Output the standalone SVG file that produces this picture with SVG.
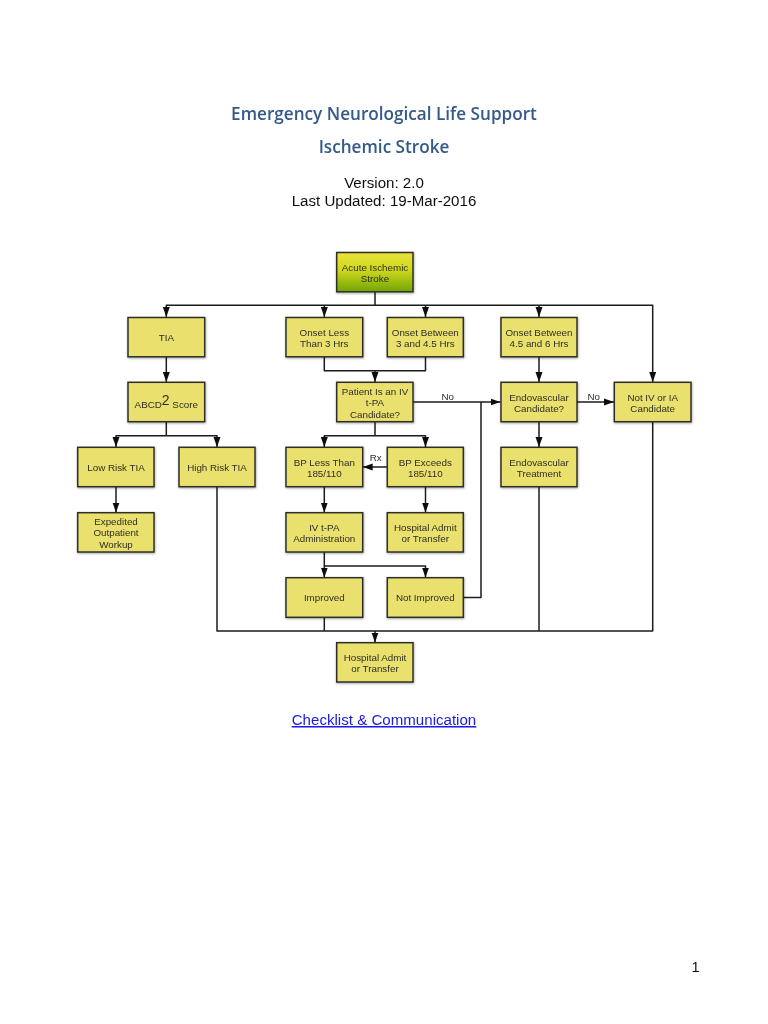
<svg xmlns="http://www.w3.org/2000/svg" width="768" height="1024" viewBox="0 0 768 1024">
<style>
.n{fill:#e9e06e;stroke:#2f2f28;stroke-width:1.5;filter:url(#s)}
.t{font-family:"Liberation Sans",Arial,sans-serif;font-size:9.8px;fill:#2f2f24;text-anchor:middle}
.c{fill:none;stroke:#1c1c1c;stroke-width:1.5;stroke-linejoin:round}
.a{marker-end:url(#ah)}
.h{font-family:"Open Sans","Noto Sans",sans-serif;font-weight:600;font-size:17.15px;fill:#345a8a;text-anchor:middle}
.b{font-family:"Liberation Sans",Arial,sans-serif;font-size:15.1px;fill:#111;text-anchor:middle}
</style>
<defs>
<marker id="ah" markerUnits="userSpaceOnUse" markerWidth="11" markerHeight="9" refX="10" refY="4" orient="auto"><path d="M0 0.500L10 4L0 7.500Z" fill="#111"/></marker>
<linearGradient id="g" x1="0" y1="0" x2="0" y2="1"><stop offset="0" stop-color="#e9e33a"/><stop offset="0.45" stop-color="#cfd81e"/><stop offset="1" stop-color="#6fa502"/></linearGradient>
<filter id="s" x="-10%" y="-10%" width="125%" height="130%"><feDropShadow dx="0.5" dy="1" stdDeviation="0.8" flood-color="#000" flood-opacity="0.35"/></filter>
<filter id="blur" filterUnits="userSpaceOnUse" x="0" y="0" width="768" height="1024"><feGaussianBlur stdDeviation="0.35"/></filter>
</defs>
<rect width="768" height="1024" fill="#fff"/>
<g filter="url(#blur)">
<text class="h" x="384" y="120">Emergency Neurological Life Support</text>
<text class="h" x="384" y="153">Ischemic Stroke</text>
<text class="b" x="384" y="188">Version: 2.0</text>
<text class="b" x="384" y="205.500">Last Updated: 19-Mar-2016</text>
<g id="connectors">
<path class="c" d="M375 292V305.300"/>
<path class="c a" d="M375 305.300H166.300V317"/>
<path class="c a" d="M324.300 305.300V317"/>
<path class="c a" d="M425.500 305.300V317"/>
<path class="c a" d="M539 305.300V317"/>
<path class="c a" d="M375 305.300H652.700V382"/>
<path class="c a" d="M166.300 357V382"/>
<path class="c" d="M324.300 357V370.700H425.500V357"/>
<path class="c a" d="M375 370.700V382"/>
<path class="c a" d="M539 357V382"/>
<path class="c" d="M166.300 422V435.700"/>
<path class="c a" d="M166.300 435.700H116V447"/>
<path class="c a" d="M166.300 435.700H217V447"/>
<path class="c" d="M375 422V435.700"/>
<path class="c a" d="M375 435.700H324.300V447"/>
<path class="c a" d="M375 435.700H425.500V447"/>
<path class="c a" d="M413 402H500.500"/>
<path class="c a" d="M577 402H614"/>
<path class="c a" d="M539 422V447"/>
<path class="c a" d="M387.300 467H362.700"/>
<path class="c a" d="M116 487V512.500"/>
<path class="c a" d="M324.300 487V512.500"/>
<path class="c a" d="M425.500 487V512.500"/>
<path class="c a" d="M324.300 552V577.500"/>
<path class="c a" d="M324.300 566H425.500V577.500"/>
<path class="c" d="M463.300 597.500H481V402"/>
<path class="c" d="M217 487V631H652.700V422"/>
<path class="c" d="M324.300 617.500V631"/>
<path class="c" d="M539 487V631"/>
<path class="c a" d="M375 631V642.500"/>
<text class="t" x="447.700" y="399.500">No</text>
<text class="t" x="593.700" y="399.500">No</text>
<text class="t" x="375.800" y="460.500">Rx</text>
</g>
<g id="acute"><rect class="n" style="fill:url(#g)" x="336.700" y="252.500" width="76.300" height="39.300"/><text class="t" x="375" y="270.500">Acute Ischemic</text><text class="t" x="375" y="281.800">Stroke</text></g>
<g id="tia"><rect class="n" x="128" y="317.500" width="76.700" height="39.300"/><text class="t" x="166.300" y="341">TIA</text></g>
<g id="onset3"><rect class="n" x="286" y="317.500" width="76.700" height="39.300"/><text class="t" x="324.300" y="335.500">Onset Less</text><text class="t" x="324.300" y="346.800">Than 3 Hrs</text></g>
<g id="onset45"><rect class="n" x="387.300" y="317.500" width="76" height="39.300"/><text class="t" x="425.300" y="335.500">Onset Between</text><text class="t" x="425.300" y="346.800">3 and 4.5 Hrs</text></g>
<g id="onset6"><rect class="n" x="501" y="317.500" width="76" height="39.300"/><text class="t" x="539" y="335.500">Onset Between</text><text class="t" x="539" y="346.800">4.5 and 6 Hrs</text></g>
<g id="abcd"><rect class="n" x="128" y="382.300" width="76.700" height="39.400"/><text class="t" x="166.300" y="408.300">ABCD<tspan font-size="14" dy="-3">2</tspan><tspan dy="3"> Score</tspan></text></g>
<g id="candidate"><rect class="n" x="336.700" y="382.300" width="76.300" height="39.400"/><text class="t" x="375" y="394.500">Patient Is an IV</text><text class="t" x="375" y="406.300">t-PA</text><text class="t" x="375" y="418">Candidate?</text></g>
<g id="endocand"><rect class="n" x="501" y="382.300" width="76" height="39.400"/><text class="t" x="539" y="400.500">Endovascular</text><text class="t" x="539" y="411.800">Candidate?</text></g>
<g id="notiv"><rect class="n" x="614.300" y="382.300" width="76.700" height="39.400"/><text class="t" x="652.700" y="400.500">Not IV or IA</text><text class="t" x="652.700" y="411.800">Candidate</text></g>
<g id="low"><rect class="n" x="77.700" y="447.300" width="76.300" height="39.400"/><text class="t" x="116" y="470.500">Low Risk TIA</text></g>
<g id="high"><rect class="n" x="179" y="447.300" width="76" height="39.400"/><text class="t" x="217" y="470.500">High Risk TIA</text></g>
<g id="bpless"><rect class="n" x="286" y="447.300" width="76.700" height="39.400"/><text class="t" x="324.300" y="465.500">BP Less Than</text><text class="t" x="324.300" y="476.800">185/110</text></g>
<g id="bpex"><rect class="n" x="387.300" y="447.300" width="76" height="39.400"/><text class="t" x="425.300" y="465.500">BP Exceeds</text><text class="t" x="425.300" y="476.800">185/110</text></g>
<g id="endotx"><rect class="n" x="501" y="447.300" width="76" height="39.400"/><text class="t" x="539" y="465.500">Endovascular</text><text class="t" x="539" y="476.800">Treatment</text></g>
<g id="workup"><rect class="n" x="77.700" y="512.700" width="76.300" height="39.300"/><text class="t" x="116" y="525">Expedited</text><text class="t" x="116" y="536.300">Outpatient</text><text class="t" x="116" y="548">Workup</text></g>
<g id="ivtpa"><rect class="n" x="286" y="512.700" width="76.700" height="39.300"/><text class="t" x="324.300" y="530.500">IV t-PA</text><text class="t" x="324.300" y="541.800">Administration</text></g>
<g id="admit1"><rect class="n" x="387.300" y="512.700" width="76" height="39.300"/><text class="t" x="425.300" y="530.500">Hospital Admit</text><text class="t" x="425.300" y="541.800">or Transfer</text></g>
<g id="improved"><rect class="n" x="286" y="577.700" width="76.700" height="39.600"/><text class="t" x="324.300" y="601">Improved</text></g>
<g id="notimproved"><rect class="n" x="387.300" y="577.700" width="76" height="39.600"/><text class="t" x="425.300" y="601">Not Improved</text></g>
<g id="admit2"><rect class="n" x="336.700" y="642.700" width="76.300" height="39.300"/><text class="t" x="375" y="660.500">Hospital Admit</text><text class="t" x="375" y="671.800">or Transfer</text></g>
<text x="384" y="725" font-family="Liberation Sans,Arial,sans-serif" font-size="15.100" fill="#1a1ae6" text-anchor="middle" text-decoration="underline">Checklist &amp; Communication</text>
<text x="695.500" y="972" font-family="Liberation Sans,Arial,sans-serif" font-size="14.600" fill="#111" text-anchor="middle">1</text>
</g>
</svg>
